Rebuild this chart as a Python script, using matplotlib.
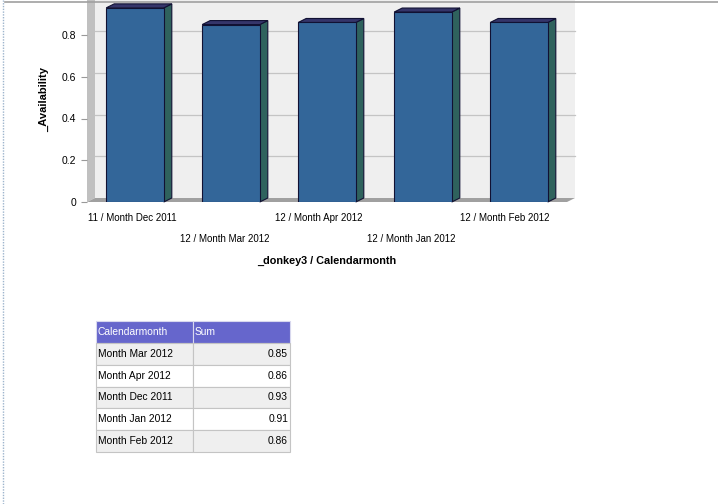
import matplotlib
matplotlib.use('Agg')
import matplotlib.pyplot as plt
import numpy as np
from matplotlib.patches import Polygon, Rectangle
from matplotlib.lines import Line2D

plt.rcParams['font.family'] = ['Liberation Sans', 'DejaVu Sans']

# chart data (order as plotted)
categories = ['11 / Month Dec 2011', '12 / Month Mar 2012', '12 / Month Apr 2012',
              '12 / Month Jan 2012', '12 / Month Feb 2012']
availability = [0.93, 0.85, 0.86, 0.91, 0.86]
yticks = [0, 0.2, 0.4, 0.6, 0.8]
ytick_labels = ['0', '0.2', '0.4', '0.6', '0.8']

# table data
table_months = ['Month Mar 2012', 'Month Apr 2012', 'Month Dec 2011', 'Month Jan 2012', 'Month Feb 2012']
table_sums = ['0.85', '0.86', '0.93', '0.91', '0.86']
table_header = ['Calendarmonth', 'Sum']

W, H = 718, 504
fig = plt.figure(figsize=(W / 100, H / 100), dpi=100)
fig.patch.set_facecolor('white')

# front plane of the 3d plot, in pixels
ax_w, ax_h = 480, 200.4
ax = fig.add_axes([87 / W, (H - 202) / H, ax_w / W, ax_h / H])
ax.set_xlim(-0.5, 4.5)
ax.set_ylim(0, 0.96)
ax.patch.set_visible(False)
for s in ax.spines.values():
    s.set_visible(False)

# depth offset (8px right, 4px up) in data units
dx = 8 / (ax_w / 5)
dy = 4 / (ax_h / 0.96)

# walls
ax.add_patch(Rectangle((-0.5 + dx, dy), 5, 1.5, fc='#efefef', ec='none', clip_on=False, zorder=0))
ax.add_patch(Polygon([(-0.5, 0), (-0.5 + dx, dy), (-0.5 + dx, 1.5), (-0.5, 1.5)],
                     closed=True, fc='#c0c0c0', ec='none', clip_on=False, zorder=0.5))
ax.add_patch(Polygon([(-0.5, 0), (4.5, 0), (4.5 + dx, dy), (-0.5 + dx, dy)],
                     closed=True, fc='#a0a0a0', ec='none', clip_on=False, zorder=0.5))

# gridlines on the back wall
for t in yticks[1:]:
    ax.plot([-0.5 + dx, 4.5 + dx], [t + dy, t + dy], color='#c4c4c4', lw=0.9,
            clip_on=False, zorder=0.3)

# bars
x = np.arange(len(categories))
bw = 0.6
bars = ax.bar(x, availability, width=bw, color='#336699', edgecolor='#111133',
              lw=0.8, zorder=3)
for xi, v in zip(x, availability):
    x0, x1 = xi - bw / 2, xi + bw / 2
    side = [(x1, 0), (x1 + dx, dy), (x1 + dx, v + dy), (x1, v)]
    top = [(x0, v), (x0 + dx, v + dy), (x1 + dx, v + dy), (x1, v)]
    ax.add_patch(Polygon(side, closed=True, fc='#2f625d', ec='#111133', lw=0.8,
                         clip_on=False, zorder=2.9))
    ax.add_patch(Polygon(top, closed=True, fc='#35356a', ec='#111133', lw=0.8,
                         clip_on=False, zorder=2.9))

# axes ticks / labels
ax.set_yticks(yticks)
ax.set_yticklabels(ytick_labels)
ax.tick_params(axis='y', length=4, color='#999999', pad=4, labelsize=7.5)
ax.set_xticks(x * 0.97 - 0.03)
ax.set_xticklabels(categories)
ax.tick_params(axis='x', length=0, labelsize=7, pad=8)
for i, tick in enumerate(ax.xaxis.get_major_ticks()):
    if i % 2 == 1:
        tick.set_pad(23)

ax.set_ylabel('_Availability', fontsize=8, fontweight='bold')
ax.yaxis.set_label_coords(-38 / ax_w, 0.51)
ax.set_xlabel('_donkey3 / Calendarmonth', fontsize=7.8, fontweight='bold')
ax.xaxis.set_label_coords(0.5, -(256 - 202) / ax_h)

# table
tax = fig.add_axes([96 / W, (H - 452) / H, 194 / W, 131 / H])
tax.axis('off')
rows = [[m, s] for m, s in zip(table_months, table_sums)]
tbl = tax.table(cellText=rows, colLabels=table_header, bbox=[0, 0, 1, 1],
                cellLoc='left', colLoc='left')
tbl.auto_set_font_size(False)
for (r, c), cell in tbl.get_celld().items():
    cell.PAD = 0.02
    cell.set_linewidth(0.8)
    cell.set_fontsize(7.4)
    if r == 0:
        cell.set_facecolor('#6666cc')
        cell.set_edgecolor('#d8d8ee')
        cell.get_text().set_color('white')
    else:
        cell.set_facecolor('#efefef' if r % 2 == 1 else 'white')
        cell.set_edgecolor('#c4c4c4')
        if c == 1:
            cell.get_text().set_ha('right')
            cell._loc = 'right'

# page decorations
fig.add_artist(Line2D([3 / W, 3 / W], [0, 1], color='#9db4cc', lw=1, ls=(0, (1, 1))))
fig.add_artist(Line2D([5 / W, 1], [1 - 1.5 / H, 1 - 1.5 / H], color='#a0a0a0', lw=1.2))

fig.savefig('out.png', dpi=100)
